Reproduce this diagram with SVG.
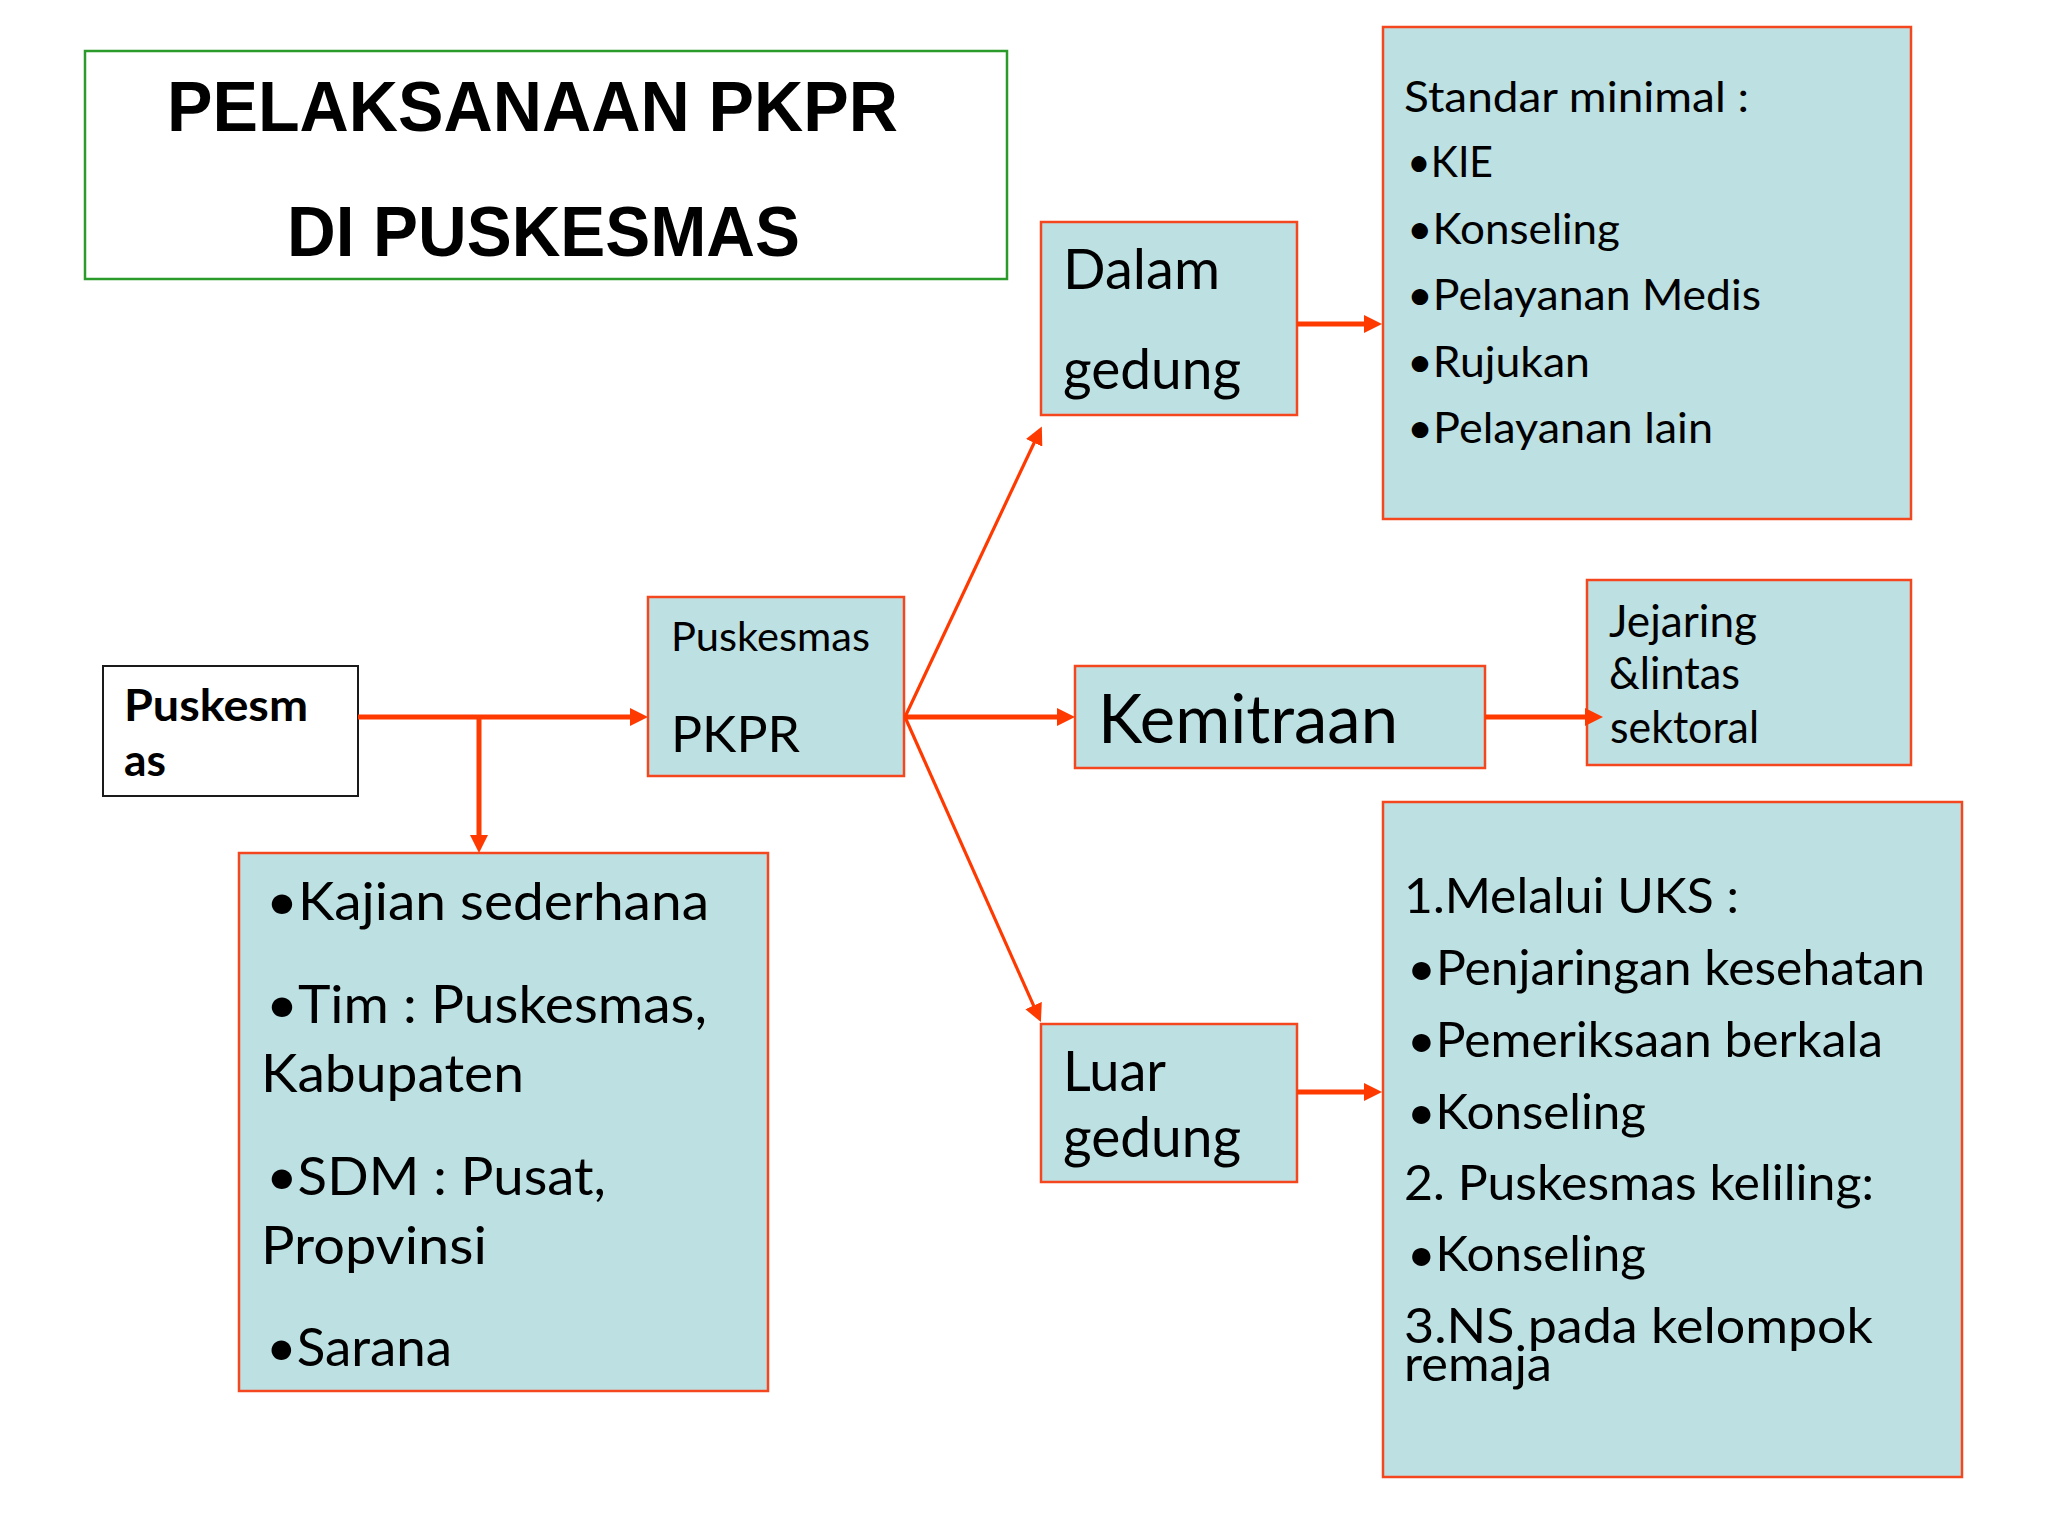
<svg xmlns="http://www.w3.org/2000/svg" width="2048" height="1536" viewBox="0 0 2048 1536">
<style>
.box{fill:#bde0e3;stroke:#f4471f;stroke-width:2.5}
.plain{fill:#ffffff;stroke:#1a1a1a;stroke-width:2}
.title{fill:#ffffff;stroke:#2a9a2a;stroke-width:2.5}
.t{font-family:Lato,"Open Sans","DejaVu Sans",sans-serif;fill:#000000}
.tb{font-family:Lato,"Open Sans","DejaVu Sans",sans-serif;font-weight:bold;fill:#000000}
.ttl{font-family:"Liberation Sans",Arial,sans-serif;font-weight:bold;fill:#000000;font-size:70px}
.c{stroke:#ff3a00;fill:none}
.thick{stroke-width:5}
.thin{stroke-width:3.2}
</style>
<defs>
<marker id="ah" viewBox="0 0 18 18" refX="2" refY="9" markerWidth="18" markerHeight="18" markerUnits="userSpaceOnUse" orient="auto">
<path d="M0,0 L18,9 L0,18 z" fill="#ff3a00"/>
</marker>
</defs>
<rect width="2048" height="1536" fill="#ffffff"/>

<g id="title">
<rect class="title" x="85" y="51" width="922" height="228"/>
<text class="ttl" x="167" y="131" textLength="731" lengthAdjust="spacingAndGlyphs">PELAKSANAAN PKPR</text>
<text class="ttl" x="287" y="256" textLength="513" lengthAdjust="spacingAndGlyphs">DI PUSKESMAS</text>
</g>

<g id="puskesmas">
<rect class="plain" x="103" y="666" width="255" height="130"/>
<text class="tb" x="124" y="721" font-size="43" textLength="184" lengthAdjust="spacingAndGlyphs">Puskesm</text>
<text class="tb" x="124" y="776" font-size="43" textLength="42" lengthAdjust="spacingAndGlyphs">as</text>
</g>

<g id="pkpr">
<rect class="box" x="648" y="597" width="256" height="179"/>
<text class="t" x="671" y="651" font-size="40" textLength="199" lengthAdjust="spacingAndGlyphs">Puskesmas</text>
<text class="t" x="671" y="752" font-size="50" textLength="129" lengthAdjust="spacingAndGlyphs">PKPR</text>
</g>

<g id="kajian">
<rect class="box" x="239" y="853" width="529" height="538"/>
<g class="t" font-size="53">
<text x="266" y="920" textLength="443" lengthAdjust="spacingAndGlyphs">•Kajian sederhana</text>
<text x="266" y="1023" textLength="441" lengthAdjust="spacingAndGlyphs">•Tim : Puskesmas,</text>
<text x="261" y="1092" textLength="263" lengthAdjust="spacingAndGlyphs">Kabupaten</text>
<text x="266" y="1195" textLength="340" lengthAdjust="spacingAndGlyphs">•SDM : Pusat,</text>
<text x="261" y="1264" textLength="226" lengthAdjust="spacingAndGlyphs">Propvinsi</text>
<text x="266" y="1366" textLength="186" lengthAdjust="spacingAndGlyphs">•Sarana</text>
</g>
</g>

<g id="dalam">
<rect class="box" x="1041" y="222" width="256" height="193"/>
<text class="t" x="1063" y="289" font-size="57" textLength="157" lengthAdjust="spacingAndGlyphs">Dalam</text>
<text class="t" x="1063" y="389" font-size="57" textLength="178" lengthAdjust="spacingAndGlyphs">gedung</text>
</g>

<g id="standar">
<rect class="box" x="1383" y="27" width="528" height="492"/>
<g class="t" font-size="43">
<text x="1404" y="112" textLength="345" lengthAdjust="spacingAndGlyphs">Standar minimal :</text>
<text x="1407" y="177" textLength="86" lengthAdjust="spacingAndGlyphs">•KIE</text>
<text x="1407" y="244" textLength="213" lengthAdjust="spacingAndGlyphs">•Konseling</text>
<text x="1407" y="310" textLength="354" lengthAdjust="spacingAndGlyphs">•Pelayanan Medis</text>
<text x="1407" y="377" textLength="183" lengthAdjust="spacingAndGlyphs">•Rujukan</text>
<text x="1407" y="443" textLength="306" lengthAdjust="spacingAndGlyphs">•Pelayanan lain</text>
</g>
</g>

<g id="kemitraan">
<rect class="box" x="1075" y="666" width="410" height="102"/>
<text class="t" x="1098" y="743" font-size="67" textLength="300" lengthAdjust="spacingAndGlyphs">Kemitraan</text>
</g>

<g id="jejaring">
<rect class="box" x="1587" y="580" width="324" height="185"/>
<g class="t" font-size="44">
<text x="1609" y="637" textLength="148" lengthAdjust="spacingAndGlyphs">Jejaring</text>
<text x="1609" y="689" textLength="131" lengthAdjust="spacingAndGlyphs">&amp;lintas</text>
<text x="1610" y="743" textLength="149" lengthAdjust="spacingAndGlyphs">sektoral</text>
</g>
</g>

<g id="luar">
<rect class="box" x="1041" y="1024" width="256" height="158"/>
<text class="t" x="1063" y="1091" font-size="57" textLength="103" lengthAdjust="spacingAndGlyphs">Luar</text>
<text class="t" x="1063" y="1157" font-size="57" textLength="178" lengthAdjust="spacingAndGlyphs">gedung</text>
</g>

<g id="luar-detail">
<rect class="box" x="1383" y="802" width="579" height="675"/>
<g class="t" font-size="49">
<text x="1404" y="913" textLength="335" lengthAdjust="spacingAndGlyphs">1.Melalui UKS :</text>
<text x="1407" y="985" textLength="518" lengthAdjust="spacingAndGlyphs">•Penjaringan kesehatan</text>
<text x="1407" y="1057" textLength="476" lengthAdjust="spacingAndGlyphs">•Pemeriksaan berkala</text>
<text x="1407" y="1129" textLength="239" lengthAdjust="spacingAndGlyphs">•Konseling</text>
<text x="1404" y="1200" textLength="470" lengthAdjust="spacingAndGlyphs">2. Puskesmas keliling:</text>
<text x="1407" y="1271" textLength="239" lengthAdjust="spacingAndGlyphs">•Konseling</text>
<text x="1404" y="1343" textLength="469" lengthAdjust="spacingAndGlyphs">3.NS pada kelompok</text>
<text x="1404" y="1381" textLength="148" lengthAdjust="spacingAndGlyphs">remaja</text>
</g>
</g>

<g id="connectors">
<line class="c thick" x1="358" y1="717" x2="632" y2="717" marker-end="url(#ah)"/>
<line class="c thick" x1="479" y1="717" x2="479" y2="837" marker-end="url(#ah)"/>
<line class="c thin" x1="905" y1="717" x2="1035" y2="441" marker-end="url(#ah)"/>
<line class="c thick" x1="904" y1="717" x2="1059" y2="717" marker-end="url(#ah)"/>
<line class="c thin" x1="905" y1="717" x2="1034.4" y2="1007.4" marker-end="url(#ah)"/>
<line class="c thick" x1="1297" y1="324" x2="1366" y2="324" marker-end="url(#ah)"/>
<line class="c thick" x1="1485" y1="717" x2="1587" y2="717" marker-end="url(#ah)"/>
<line class="c thick" x1="1297" y1="1092" x2="1366" y2="1092" marker-end="url(#ah)"/>
</g>
</svg>
